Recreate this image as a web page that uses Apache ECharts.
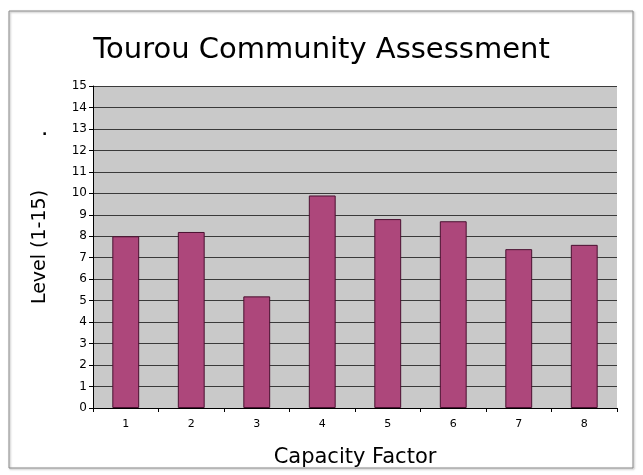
<!DOCTYPE html>
<html lang="en">
<head>
    <meta charset="UTF-8">
    <title>Tourou Community Assessment</title>
    <script src="https://cdn.jsdelivr.net/npm/echarts@6/dist/echarts.min.js"></script>
    <style>
        html, body { margin: 0; padding: 0; background: #fff; }
    </style>
</head>
<body>
<div id="main" style="width: 643px;height:475px;"></div>
<script>
    // data
    var factors = ['1', '2', '3', '4', '5', '6', '7', '8'];
    var levels = [8.0, 8.2, 5.2, 9.9, 8.8, 8.7, 7.4, 7.6];

    var font = 'DejaVu Sans, Verdana, sans-serif';
    var myChart = echarts.init(document.getElementById('main'));

    var option = {
        backgroundColor: '#fff',
        animation: false,
        title: {
            text: 'Tourou Community Assessment',
            left: 'center',
            top: 31,
            textStyle: {
                color: '#000',
                fontFamily: font,
                fontWeight: 'normal',
                fontSize: 29
            }
        },
        graphic: [
            {
                type: 'rect',
                shape: { x: 9, y: 11, width: 624, height: 457 },
                style: {
                    fill: 'none',
                    stroke: '#8a8a8a',
                    lineWidth: 1,
                    shadowBlur: 2,
                    shadowOffsetX: 1,
                    shadowOffsetY: 1,
                    shadowColor: 'rgba(0,0,0,0.35)'
                },
                z: -1
            },
            {
                type: 'text',
                left: 42,
                top: 124,
                style: { text: '.', fill: '#000', font: 'bold 14px ' + font }
            }
        ],
        grid: {
            left: 93,
            right: 26,
            top: 86,
            bottom: 67,
            show: true,
            backgroundColor: '#c9c9c9',
            borderWidth: 0
        },
        xAxis: {
            type: 'category',
            data: factors,
            name: 'Capacity Factor',
            nameLocation: 'middle',
            nameGap: 39,
            nameTextStyle: { color: '#000', fontFamily: font, fontSize: 21 },
            axisLine: { lineStyle: { color: '#000', width: 1 } },
            axisTick: { show: true, length: 4, lineStyle: { color: '#000' } },
            axisLabel: { color: '#000', fontFamily: font, fontSize: 11, margin: 11 }
        },
        yAxis: {
            type: 'value',
            min: 0,
            max: 15,
            interval: 1,
            name: 'Level (1-15)',
            nameLocation: 'middle',
            nameGap: 43,
            nameTextStyle: { color: '#000', fontFamily: font, fontSize: 19 },
            axisLine: { show: true, lineStyle: { color: '#000', width: 1 } },
            axisTick: { show: true, length: 4, lineStyle: { color: '#000' } },
            axisLabel: { color: '#000', fontFamily: font, fontSize: 12, margin: 6 },
            splitLine: { show: true, lineStyle: { color: '#3a3a3a', width: 1 } }
        },
        series: [
            {
                name: 'Level',
                type: 'bar',
                data: levels,
                barWidth: '41%',
                itemStyle: {
                    color: '#ad477b',
                    borderColor: '#4a1030',
                    borderWidth: 1
                }
            }
        ]
    };
    myChart.setOption(option);
</script>
</body>
</html>
